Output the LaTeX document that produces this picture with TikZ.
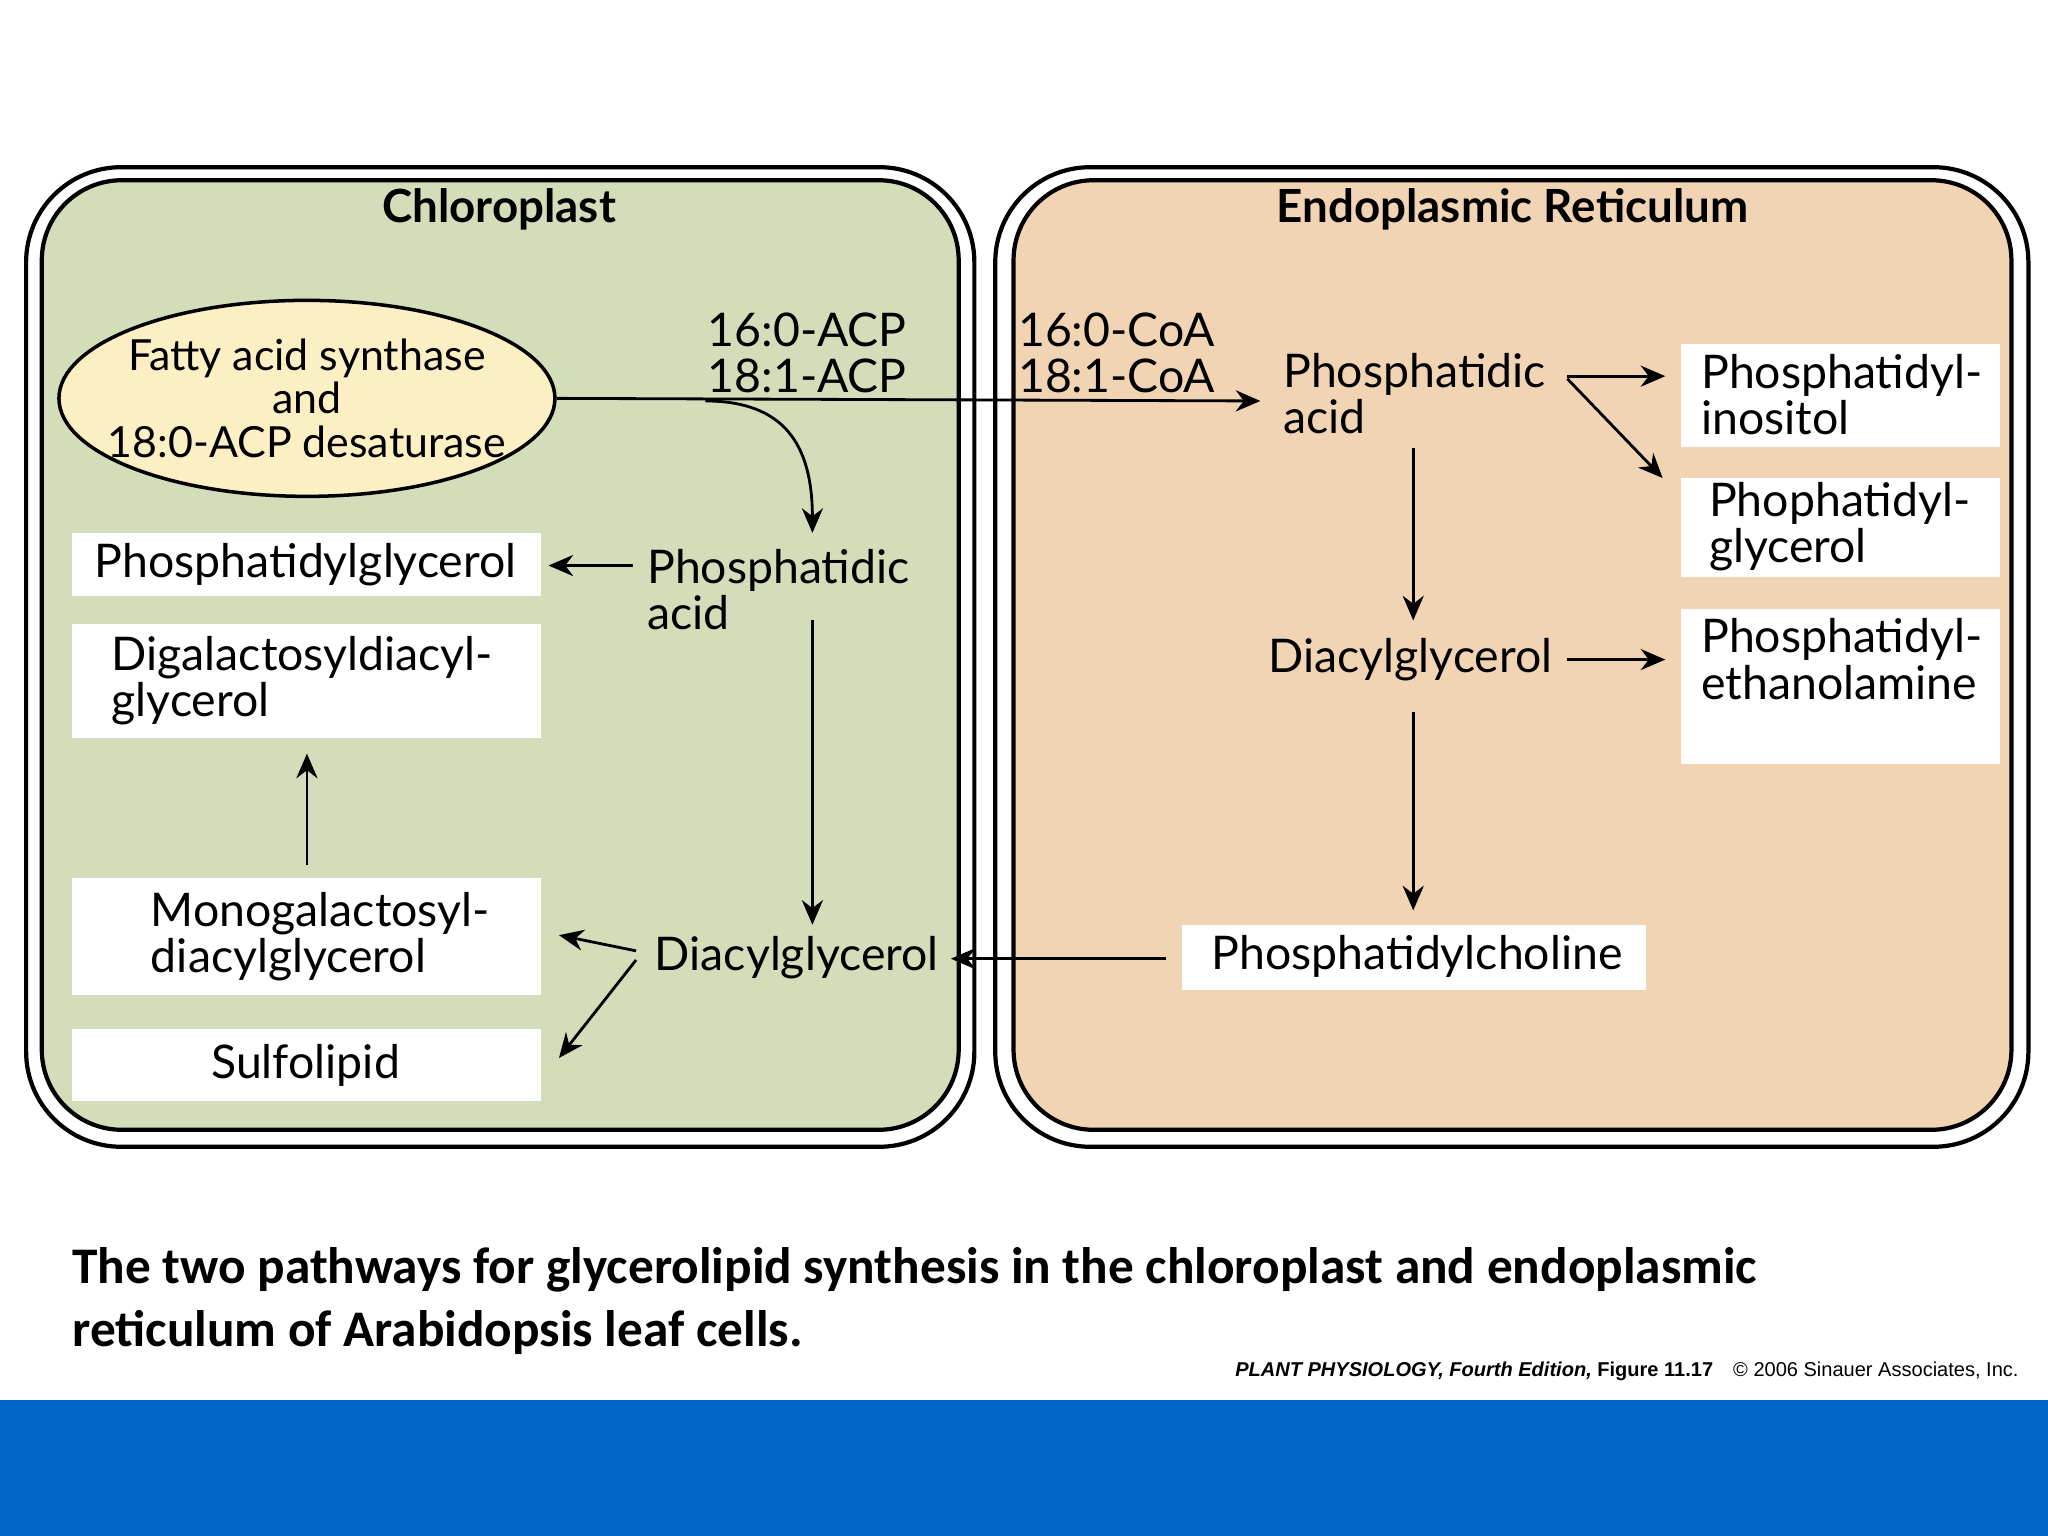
\documentclass[tikz,border=0pt]{standalone}
\usepackage{fontspec}
\setmainfont{Lato}
\newfontfamily\capfont{Carlito}
\newfontfamily\credfont{Liberation Sans}
\usetikzlibrary{shapes.geometric,arrows.meta}
\definecolor{chl}{HTML}{D3DDB9}
\definecolor{erc}{HTML}{F1D4B4}
\definecolor{ell}{HTML}{FCEFC3}
\definecolor{band}{HTML}{0067C6}
\begin{document}
\begin{tikzpicture}[x=0.013061cm,y=-0.013061cm,
  txt/.style={font=\fontsize{13.2}{13.2}\selectfont,inner sep=0pt},
  arr/.style={-{Stealth[length=7pt,width=6pt]},line width=0.8pt},
  ttl/.style={font=\bfseries\fontsize{13}{14}\selectfont}]
\useasboundingbox (0,0) rectangle (1568,1176);
\fill[white] (0,0) rectangle (1568,1176);
% compartments
\draw[line width=1.2pt,rounded corners=0.95cm] (20,128) rectangle (746,878);
\draw[line width=1.2pt,fill=chl,rounded corners=0.8cm] (32,138) rectangle (734,865);
\draw[line width=1.2pt,rounded corners=0.95cm] (762,128) rectangle (1553,878);
\draw[line width=1.2pt,fill=erc,rounded corners=0.8cm] (776,138) rectangle (1540,865);
\node[ttl] (t1) at (382,160) {Chloroplast};
\node[ttl] (t2) at (1158,160) {Endoplasmic Reticulum};
% chloroplast
\node[ellipse,draw,line width=1pt,fill=ell,minimum width=4.96cm,minimum height=1.96cm,inner sep=0pt] (fas) at (235,305) {};
\node[txt,font=\fontsize{12.2}{12.4}\selectfont,align=center] (fast) at (fas.center) {Fatty acid synthase\\and\\18:0-ACP desaturase};
\node[txt,align=left] (acp) at (618,270) {16:0-ACP\\18:1-ACP};
\node[txt,align=left] (coa) at (855,270) {16:0-CoA\\18:1-CoA};
\node[txt,align=left,anchor=north west] (pa1) at (495,420) {Phosphatidic\\acid};
\fill[white] (55,408) rectangle (414,456); \node[txt] (pg1) at (234,432) {Phosphatidylglycerol};
\fill[white] (55,478) rectangle (414,565); \node[txt,align=left,anchor=west] (dg) at (85,521) {Digalactosyldiacyl-\\glycerol};
\fill[white] (55,672) rectangle (414,762); \node[txt,align=left,anchor=west] (mg) at (115,717) {Monogalactosyl-\\diacylglycerol};
\fill[white] (55,788) rectangle (414,843); \node[txt] (sl) at (234,816) {Sulfolipid};
\node[txt] (dag1) at (610,733) {Diacylglycerol};
\coordinate (c1) at (965,307);
\coordinate (c2) at (540,307);
\coordinate (c3) at (622,408);
\draw[arr] (fas.east) -- (c1);
\draw[arr] (c2) .. controls (600,307) and (622,340) .. (c3);
\draw[arr] (485,433) -- (420,433);
\draw[arr] (622,475) -- (622,708);
\draw[arr] (235,662) -- (235,577);
\draw[arr] (487,728) -- (428,716);
\draw[arr] (487,735) -- (428,810);
% ER
\node[txt,align=left,anchor=north west] (pa2) at (982,270) {Phosphatidic\\acid};
\fill[white] (1287,263) rectangle (1531,342); \node[txt,align=left,anchor=west] (pi) at (1302,302) {Phosphatidyl-\\inositol};
\fill[white] (1287,366) rectangle (1531,442); \node[txt,align=left,anchor=west] (pg2) at (1308,403) {Phophatidyl-\\glycerol};
\fill[white] (1287,466) rectangle (1531,585); \node[txt,align=left,anchor=north west] (pe) at (1302,473) {Phosphatidyl-\\ethanolamine};
\node[txt] (dag2) at (1080,505) {Diacylglycerol};
\fill[white] (905,708) rectangle (1260,758); \node[txt] (pc) at (1085,732) {Phosphatidylcholine};
\draw[arr] (1200,288) -- (1275,288);
\draw[arr] (1200,290) -- (1273,366);
\draw[arr] (1082,343) -- (1082,475);
\draw[arr] (1200,505) -- (1275,505);
\draw[arr] (1082,545) -- (1082,697);
\draw[arr] (893,734) -- (728,734);
% caption
\node[anchor=west,inner sep=0pt,font=\capfont\bfseries\fontsize{14.6}{18}\selectfont,align=left] (cap) at (55,996) {The two pathways for glycerolipid synthesis in the chloroplast and endoplasmic\\reticulum of Arabidopsis leaf cells.};
\node[anchor=east,inner sep=0pt,font=\credfont\fontsize{5.7}{6}\selectfont] (cred) at (1546,1050) {\textbf{\itshape PLANT PHYSIOLOGY, Fourth Edition,} \textbf{Figure 11.17}\quad© 2006 Sinauer Associates, Inc.};
\fill[band] (0,1072) rectangle (1568,1176);
\end{tikzpicture}
\end{document}
